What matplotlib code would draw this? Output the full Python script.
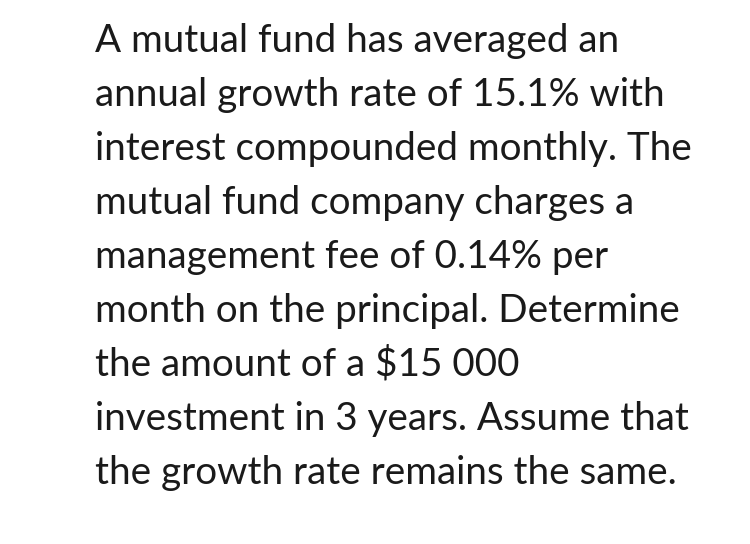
import matplotlib
matplotlib.use("Agg")
import matplotlib.pyplot as plt

lines = [
    "A mutual fund has averaged an",
    "annual growth rate of 15.1% with",
    "interest compounded monthly. The",
    "mutual fund company charges a",
    "management fee of 0.14% per",
    "month on the principal. Determine",
    "the amount of a $15 000",
    "investment in 3 years. Assume that",
    "the growth rate remains the same.",
]

fig = plt.figure(figsize=(7.5, 5.44), dpi=100)
fig.patch.set_facecolor("white")

# baseline of first line ~52px, spacing ~54px
for i, s in enumerate(lines):
    y = 1 - (52 + i * 54) / 544
    fig.text(95 / 750, y, s, family=["Lato", "DejaVu Sans"], fontsize=27.8,
             color="#1a1a1a", va="baseline", ha="left")

fig.savefig("out.png", dpi=100, facecolor="white")
